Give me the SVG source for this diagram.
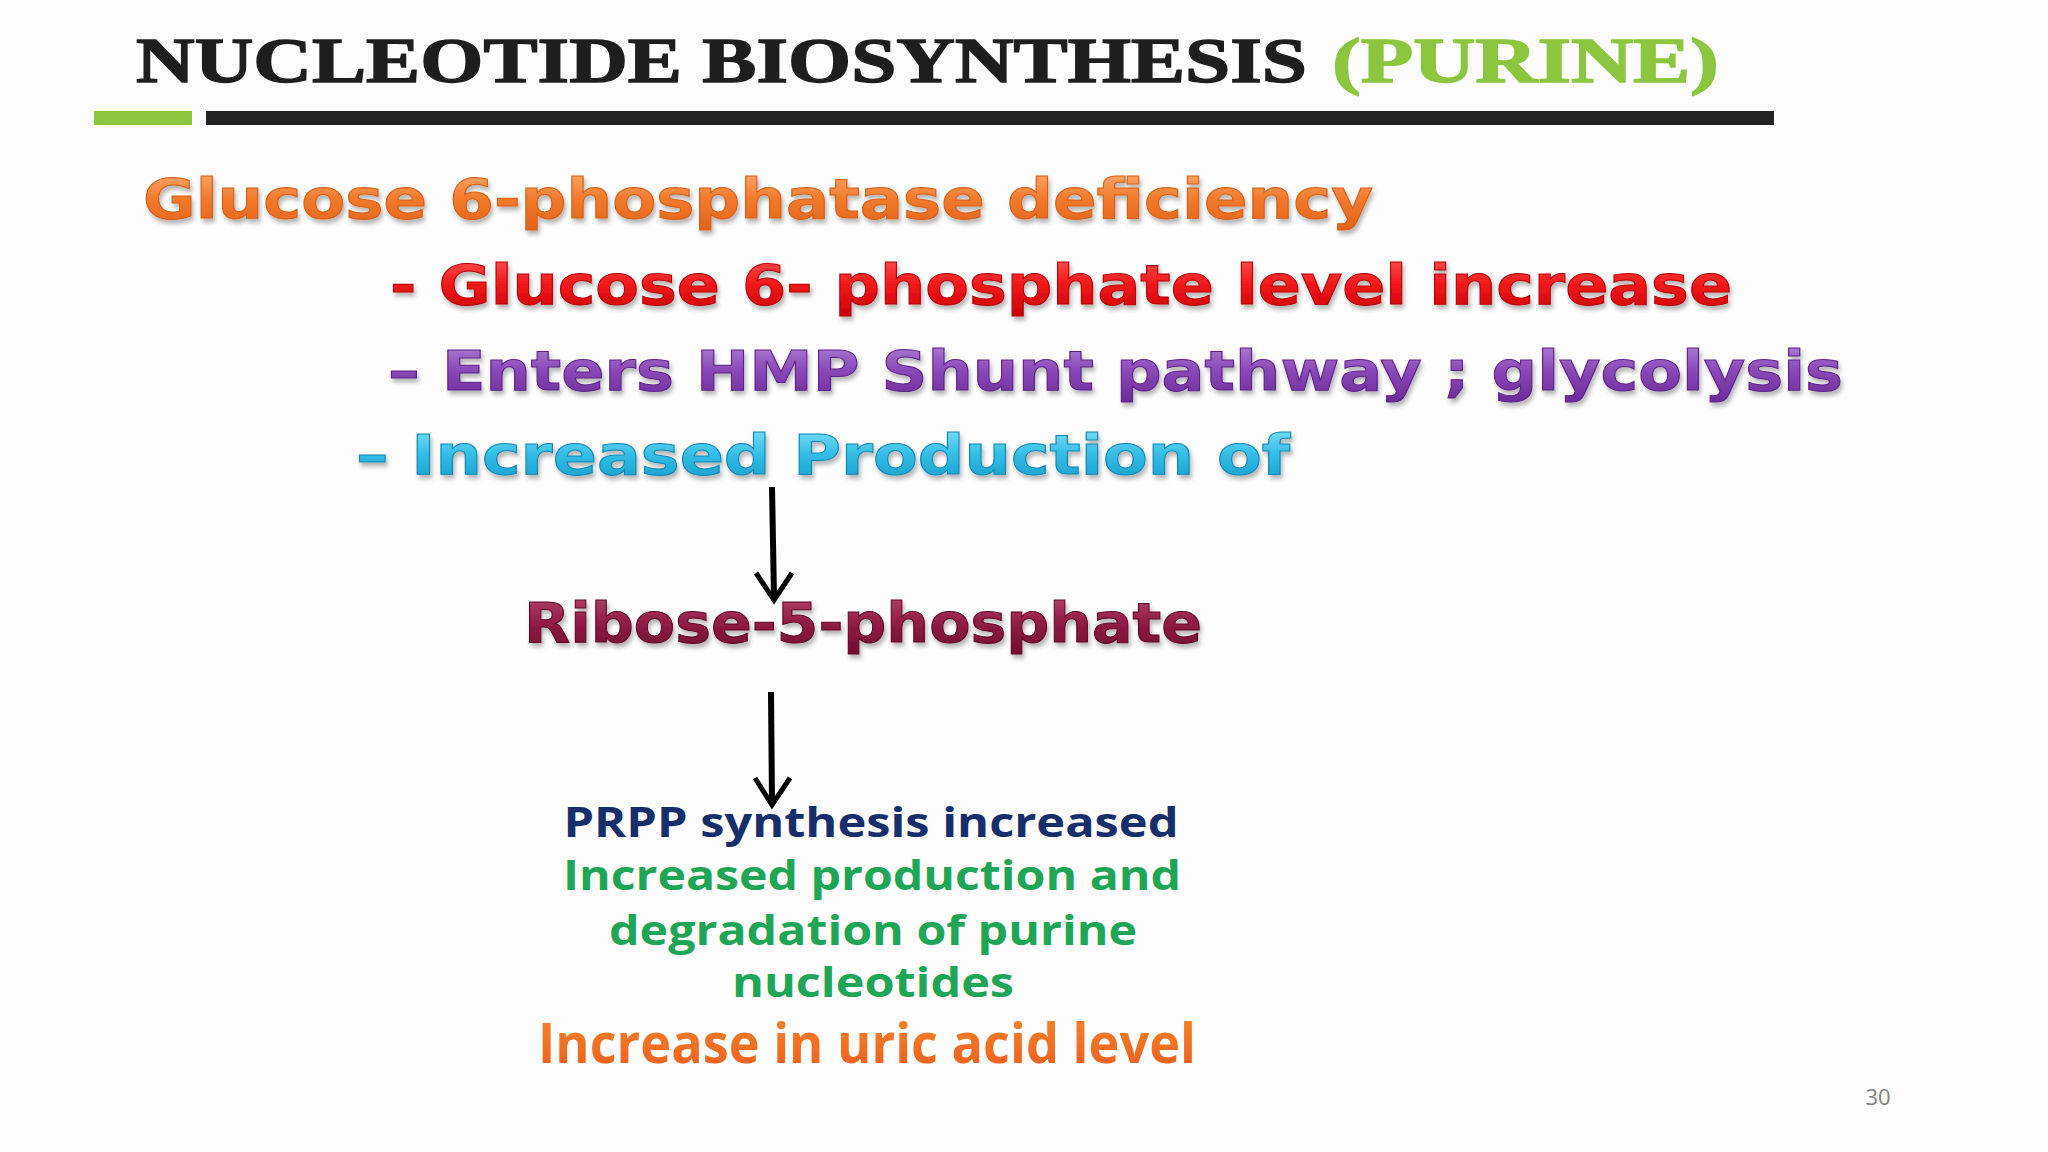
<svg xmlns="http://www.w3.org/2000/svg" width="2048" height="1152" viewBox="0 0 2048 1152">
<defs>
<style>
.title{font-family:"Liberation Serif","DejaVu Serif",serif;font-weight:bold;font-size:64px;stroke-width:1.4}
.wa{font-family:"DejaVu Sans","Verdana",sans-serif;font-weight:bold;font-size:56px;filter:url(#shadow);stroke-width:1}
.cal{font-family:"Open Sans","Lato",sans-serif;font-weight:bold;text-anchor:middle}
.conn{stroke:#000;stroke-width:6;fill:none;stroke-linecap:butt}
.head{stroke:#000;stroke-width:5;fill:none;stroke-linejoin:miter}
</style>
<filter id="shadow" x="-5%" y="-30%" width="110%" height="170%">
<feDropShadow dx="2" dy="4" stdDeviation="2" flood-color="#000" flood-opacity="0.28"/>
</filter>
<linearGradient id="gOrange" x1="0" y1="0" x2="0" y2="1"><stop offset="0" stop-color="#fbb27a"/><stop offset="0.5" stop-color="#f27a2c"/><stop offset="1" stop-color="#e2621a"/></linearGradient>
<linearGradient id="gRed" x1="0" y1="0" x2="0" y2="1"><stop offset="0" stop-color="#ff5a5a"/><stop offset="0.5" stop-color="#f01818"/><stop offset="1" stop-color="#c80008"/></linearGradient>
<linearGradient id="gPurple" x1="0" y1="0" x2="0" y2="1"><stop offset="0" stop-color="#b488d8"/><stop offset="0.5" stop-color="#8a48b8"/><stop offset="1" stop-color="#6a2a96"/></linearGradient>
<linearGradient id="gCyan" x1="0" y1="0" x2="0" y2="1"><stop offset="0" stop-color="#8ee4f8"/><stop offset="0.5" stop-color="#33bde6"/><stop offset="1" stop-color="#1499c8"/></linearGradient>
<linearGradient id="gCrimson" x1="0" y1="0" x2="0" y2="1"><stop offset="0" stop-color="#b54a70"/><stop offset="0.5" stop-color="#921c47"/><stop offset="1" stop-color="#6e0a2c"/></linearGradient>
<linearGradient id="gUric" x1="0" y1="0" x2="0" y2="1"><stop offset="0" stop-color="#f78a2a"/><stop offset="1" stop-color="#ec5a1e"/></linearGradient>
</defs>
<rect x="0" y="0" width="2048" height="1152" fill="#fdfdfe"/>

<g id="header">
<text class="title" x="136" y="82" fill="#1e1e1e" stroke="#1e1e1e" textLength="1171" lengthAdjust="spacingAndGlyphs">NUCLEOTIDE BIOSYNTHESIS</text>
<text class="title" x="1332" y="82" fill="#8cc63f" stroke="#8cc63f" textLength="387" lengthAdjust="spacingAndGlyphs">(PURINE)</text>
<rect x="94" y="111" width="98" height="14" fill="#8cc63f"/>
<rect x="206" y="111" width="1568" height="14" fill="#232323"/>
</g>

<g id="node-deficiency">
<text class="wa" x="143" y="218" fill="url(#gOrange)" stroke="#d85e14" textLength="1230" lengthAdjust="spacingAndGlyphs">Glucose 6-phosphatase deficiency</text>
</g>
<g id="node-g6p">
<text class="wa" x="390" y="304" fill="url(#gRed)" stroke="#b80008" textLength="1342" lengthAdjust="spacingAndGlyphs">- Glucose 6- phosphate level increase</text>
</g>
<g id="node-hmp">
<text class="wa" x="388" y="390" fill="url(#gPurple)" stroke="#5e2088" textLength="1455" lengthAdjust="spacingAndGlyphs">– Enters HMP Shunt pathway ; glycolysis</text>
</g>
<g id="node-production">
<text class="wa" x="356" y="474" fill="url(#gCyan)" stroke="#1088b4" textLength="934" lengthAdjust="spacingAndGlyphs">– Increased Production of</text>
</g>

<g id="node-ribose">
<text class="wa" x="524" y="642" font-size="48" fill="url(#gCrimson)" stroke="#5e0624" textLength="678" lengthAdjust="spacingAndGlyphs">Ribose-5-phosphate</text>
</g>

<g id="node-result">
<text class="cal" x="871" y="837" font-size="41" fill="#172e6a" textLength="615" lengthAdjust="spacingAndGlyphs">PRPP synthesis increased</text>
<text class="cal" x="872" y="890" font-size="41" fill="#1ea556" textLength="618" lengthAdjust="spacingAndGlyphs">Increased production and</text>
<text class="cal" x="873" y="945" font-size="41" fill="#1ea556" textLength="528" lengthAdjust="spacingAndGlyphs">degradation of purine</text>
<text class="cal" x="873" y="997" font-size="41" fill="#1ea556" textLength="282" lengthAdjust="spacingAndGlyphs">nucleotides</text>
</g>
<g id="node-uric">
<text class="cal" x="867" y="1063" font-size="55" font-weight="600" fill="url(#gUric)" textLength="658" lengthAdjust="spacingAndGlyphs">Increase in uric acid level</text>
</g>

<g id="connectors">
<line class="conn" x1="772" y1="487" x2="774" y2="597"/>
<polyline class="head" points="756,573 774,600 792,573"/>
<line class="conn" x1="771" y1="692" x2="772" y2="802"/>
<polyline class="head" points="755,778 772,805 790,778"/>
</g>

<text x="1878" y="1105" font-family="'Open Sans','Liberation Sans',sans-serif" font-size="22" fill="#808080" text-anchor="middle">30</text>
</svg>
